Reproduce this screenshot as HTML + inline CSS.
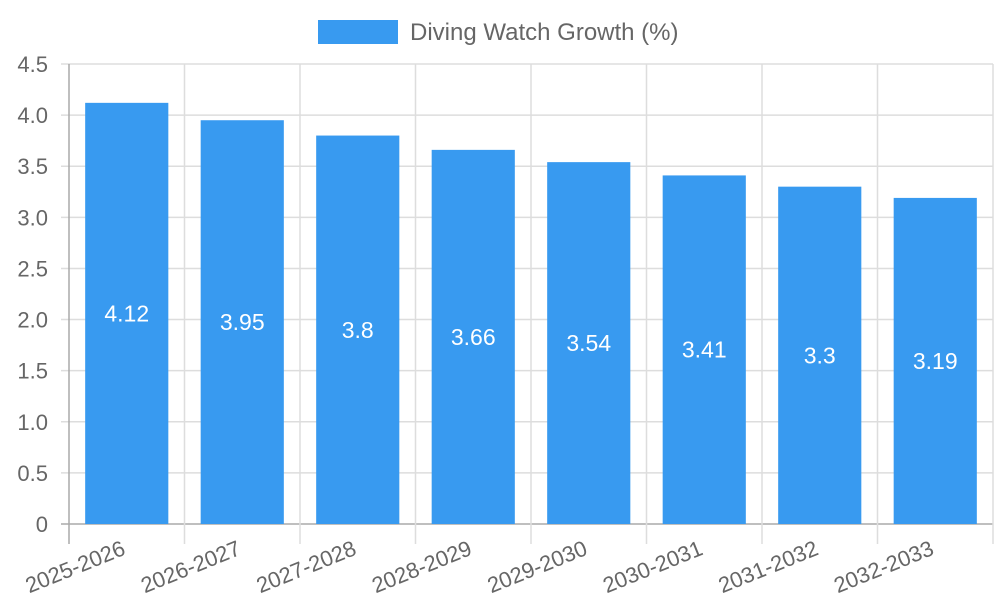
<!DOCTYPE html>
<html><head><meta charset="utf-8"><style>
html,body{margin:0;padding:0;background:#fff}
svg{display:block;font-family:"Liberation Sans",sans-serif}
</style></head><body>
<svg id="chart" width="1000" height="600">
  <g>
    <rect x="318" y="20" width="80" height="24" fill="#389af0"/>
    <text x="410" y="40" font-size="24" fill="#666">Diving Watch Growth (%)</text>
  </g>
  <g id="grid"></g><g id="bars"></g><g id="labels"></g>
</svg>
<script>
const categories=["2025-2026","2026-2027","2027-2028","2028-2029","2029-2030","2030-2031","2031-2032","2032-2033"];
const values=[4.12,3.95,3.8,3.66,3.54,3.41,3.3,3.19];
const yTicks=[0,0.5,1,1.5,2,2.5,3,3.5,4,4.5];
const yTickLabels=["0","0.5","1.0","1.5","2.0","2.5","3.0","3.5","4.0","4.5"];
const NS="http://www.w3.org/2000/svg";
const L=69,R=993,T=64,B=524,YMAX=4.5;
const y=v=>B-(v/YMAX)*(B-T);
const step=(R-L)/categories.length;
const xc=i=>L+step*(i+0.5);
function mk(tag,attrs,parent){const e=document.createElementNS(NS,tag);for(const k in attrs)e.setAttribute(k,attrs[k]);parent.appendChild(e);return e;}
const grid=document.getElementById('grid'),bars=document.getElementById('bars'),labels=document.getElementById('labels');
yTicks.forEach((t,i)=>{
  const g=mk('line',{x1:L-8,x2:R,y1:y(t),y2:y(t),stroke:i===0?'#aaa':'#ddd','stroke-width':1.5},grid);
  
  
  const tx=mk('text',{x:L-21,y:y(t)+8,'text-anchor':'end','font-size':22,fill:'#666'},labels);
  tx.textContent=yTickLabels[i];
  
  
});
for(let i=0;i<=categories.length;i++){
  const x=L+step*i;
  const g=mk('line',{x1:x,x2:x,y1:T,y2:B+20,stroke:i===0?'#aaa':'#ddd','stroke-width':1.5},grid);
  
  
}
const bw=step*0.72;
values.forEach((v,i)=>{
  const r=mk('rect',{x:xc(i)-bw/2,y:y(v),width:bw,height:B-y(v),fill:'#389af0'},bars);
  
  
  const t=mk('text',{x:xc(i),y:(y(v)+B)/2+8,'text-anchor':'middle','font-size':23,fill:'#fff'},labels);
  t.textContent=String(v);
  
  
  const c=mk('text',{x:xc(i),y:B+30,'text-anchor':'end','font-size':22,fill:'#666',transform:`rotate(-22 ${xc(i)} ${B+30})`},labels);
  c.textContent=categories[i];
  
  
});
</script>
</body></html>
